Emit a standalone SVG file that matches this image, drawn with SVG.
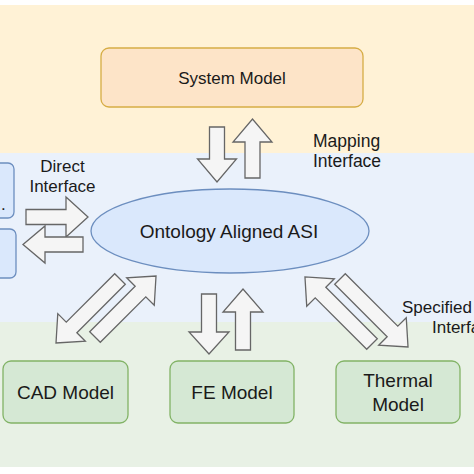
<svg xmlns="http://www.w3.org/2000/svg" width="474" height="474" viewBox="0 0 474 474">
<style>
text{font-family:"Liberation Sans",Arial,sans-serif;fill:#1a1a1a}
.arr{fill:#f5f5f5;stroke:#666;stroke-width:1.3;stroke-linejoin:miter}
.blue{fill:#dae8fc;stroke:#6c8ebf;stroke-width:1.3}
.green{fill:#d5e8d4;stroke:#82b366;stroke-width:1.3}
</style>
<rect width="474" height="474" fill="#ffffff"/>
<g id="bands">
<rect x="0" y="5" width="474" height="148" fill="#fff2d6"/>
<rect x="0" y="153" width="474" height="169" fill="#eaf1fb"/>
<rect x="0" y="322" width="474" height="145" fill="#e8f1e5"/>
</g>
<g id="system-model">
<rect x="101" y="48" width="262" height="59" rx="8" fill="#fde4c8" stroke="#d6ad45" stroke-width="1.3"/>
<text x="232" y="84" font-size="17" text-anchor="middle">System Model</text>
</g>
<g id="asi">
<ellipse class="blue" cx="230" cy="231" rx="139" ry="42"/>
<text x="229" y="238" font-size="19" text-anchor="middle">Ontology Aligned ASI</text>
</g>
<g id="left-top">
<rect class="blue" x="-20" y="163" width="34" height="55" rx="6"/>
<text x="1" y="210" font-size="17">.</text>
</g>
<g id="left-bottom">
<rect class="blue" x="-20" y="229" width="36" height="49" rx="6"/>
</g>
<g id="cad">
<rect class="green" x="3" y="361" width="125" height="62" rx="8"/>
<text x="65.5" y="399" font-size="19" text-anchor="middle">CAD Model</text>
</g>
<g id="fe">
<rect class="green" x="170" y="361" width="124" height="62" rx="8"/>
<text x="232" y="399" font-size="19" text-anchor="middle">FE Model</text>
</g>
<g id="thermal">
<rect class="green" x="336" y="361" width="124" height="62" rx="8"/>
<text x="398" y="387" font-size="19" text-anchor="middle">Thermal</text>
<text x="398" y="411" font-size="19" text-anchor="middle">Model</text>
</g>
<g id="connectors">
<polygon class="arr" points="209.5,127 224.5,127 224.5,159 236.5,159 217,182 197.5,159 209.5,159"/>
<polygon class="arr" points="245,178 260,178 260,142 272,142 252.5,119 233,142 245,142"/>
<polygon class="arr" points="201.5,294 216.5,294 216.5,332 229,332 209,354 189,332 201.5,332"/>
<polygon class="arr" points="235.5,350 250.5,350 250.5,312 263,312 243,289 223,312 235.5,312"/>
<polygon class="arr" points="26,209.5 66,209.5 66,197 88,217 66,237 66,224.5 26,224.5"/>
<polygon class="arr" points="83,237 45,237 45,226 23,244.5 45,263 45,252 83,252"/>
<polygon class="arr" transform="translate(120,279) rotate(135)" points="0,-7.5 68.5,-7.5 68.5,-19.5 90.5,0 68.5,19.5 68.5,7.5 0,7.5"/>
<polygon class="arr" transform="translate(95,337) rotate(-45)" points="0,-7.5 64.3,-7.5 64.3,-19.5 86.3,0 64.3,19.5 64.3,7.5 0,7.5"/>
<polygon class="arr" transform="translate(372,344) rotate(-135)" points="0,-7.5 72.8,-7.5 72.8,-19.5 94.8,0 72.8,19.5 72.8,7.5 0,7.5"/>
<polygon class="arr" transform="translate(340,279) rotate(45)" points="0,-7.5 74.2,-7.5 74.2,-19.5 96.2,0 74.2,19.5 74.2,7.5 0,7.5"/>
</g>
<g id="labels">
<text x="313" y="147" font-size="17.5">Mapping</text>
<text x="313" y="167" font-size="17.5">Interface</text>
<text x="62.5" y="172" font-size="17" text-anchor="middle">Direct</text>
<text x="62.5" y="192" font-size="17" text-anchor="middle">Interface</text>
<text x="402" y="313" font-size="17">Specified</text>
<text x="432" y="333" font-size="17">Interface</text>
</g>
</svg>
